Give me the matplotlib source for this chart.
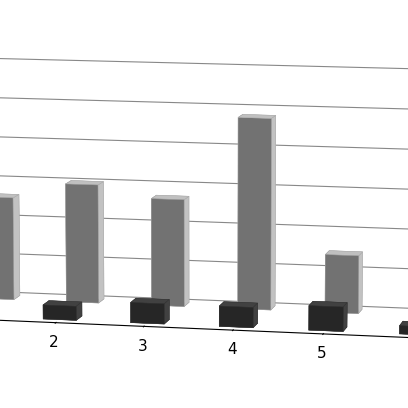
import numpy as np
import matplotlib.pyplot as plt
from matplotlib.colors import LightSource

cats = [1, 2, 3, 4, 5, 6]
back_vals = [5.2, 6.0, 5.4, 9.6, 2.9, 2.0]
front_vals = [1.1, 0.7, 1.0, 1.0, 1.2, 0.4]

fig = plt.figure(figsize=(4.08, 4.08), dpi=100)
ax = fig.add_axes([-0.42, -0.22, 1.8, 1.45], projection='3d')
x = np.arange(len(cats))
w = 0.38
ls = LightSource(azdeg=60, altdeg=40)
ax.bar3d(x - w/2, np.full(len(cats), 1.2), np.zeros(len(cats)), w, 0.3, back_vals,
         color='#dcdcdc', edgecolor='#aaaaaa', linewidth=0.3, shade=True, lightsource=ls)
ax.bar3d(x - w/2, np.zeros(len(cats)), np.zeros(len(cats)), w, 0.3, front_vals,
         color='#4a4a4a', edgecolor='#333333', linewidth=0.3, shade=True, lightsource=ls)
ax.set_xticks(x)
ax.set_xticklabels([str(c) for c in cats], fontsize=11)
ax.tick_params(axis='x', pad=2, length=0)
ax.set_yticks([])
ax.set_zticks([0, 2, 4, 6, 8, 10, 12])
ax.set_zticklabels([])
ax.set_xlim(-0.5, 5.5)
ax.set_ylim(-0.2, 1.7)
ax.set_zlim(0, 12)
ax.set_box_aspect((2.2, 0.6, 1.0))
ax.view_init(elev=9, azim=-78)
for a in (ax.xaxis, ax.yaxis, ax.zaxis):
    a.set_pane_color((1, 1, 1, 0))
    a._axinfo['grid']['color'] = '#888888'
    a._axinfo['grid']['linewidth'] = 0.8
ax.yaxis._axinfo['grid']['linewidth'] = 0
ax.xaxis._axinfo['grid']['linewidth'] = 0
fig.savefig('out.png', dpi=100)
